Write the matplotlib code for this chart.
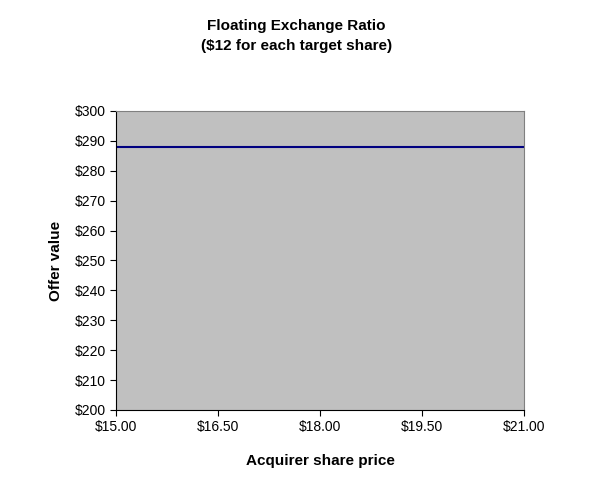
import matplotlib
matplotlib.use("Agg")
import matplotlib.pyplot as plt

prices = [15.0, 16.5, 18.0, 19.5, 21.0]
offer = [288, 288, 288, 288, 288]
xticks = [15.0, 16.5, 18.0, 19.5, 21.0]
yticks = list(range(200, 301, 10))

plt.rcParams['font.family'] = ['Liberation Sans', 'DejaVu Sans']
fig = plt.figure(figsize=(5.93, 4.93), dpi=100)
ax = fig.add_axes([0.1956, 0.1684, 0.688, 0.6065])
ax.set_facecolor('#C0C0C0')
ax.plot(prices, offer, color='#000080', lw=1.5)
ax.set_xlim(15, 21)
ax.set_ylim(200, 300)
ax.set_xticks(xticks)
ax.set_xticklabels([f"${v:.2f}" for v in xticks], fontsize=10)
ax.set_yticks(yticks)
ax.set_yticklabels([f"${v}" for v in yticks], fontsize=10)
ax.tick_params(direction='out', length=4)
for s in ax.spines.values():
    s.set_color('#808080')
ax.spines['left'].set_color('black')
ax.spines['bottom'].set_color('black')
ax.set_xlabel("Acquirer share price", fontsize=11, fontweight='bold', labelpad=14)
ax.set_ylabel("Offer value", fontsize=11, fontweight='bold', labelpad=8)
fig.text(0.5, 0.927, "Floating Exchange Ratio\n($12 for each target share)", ha='center', va='center',
         fontsize=11, fontweight='bold', linespacing=1.5)
fig.savefig("out.png", dpi=100)
